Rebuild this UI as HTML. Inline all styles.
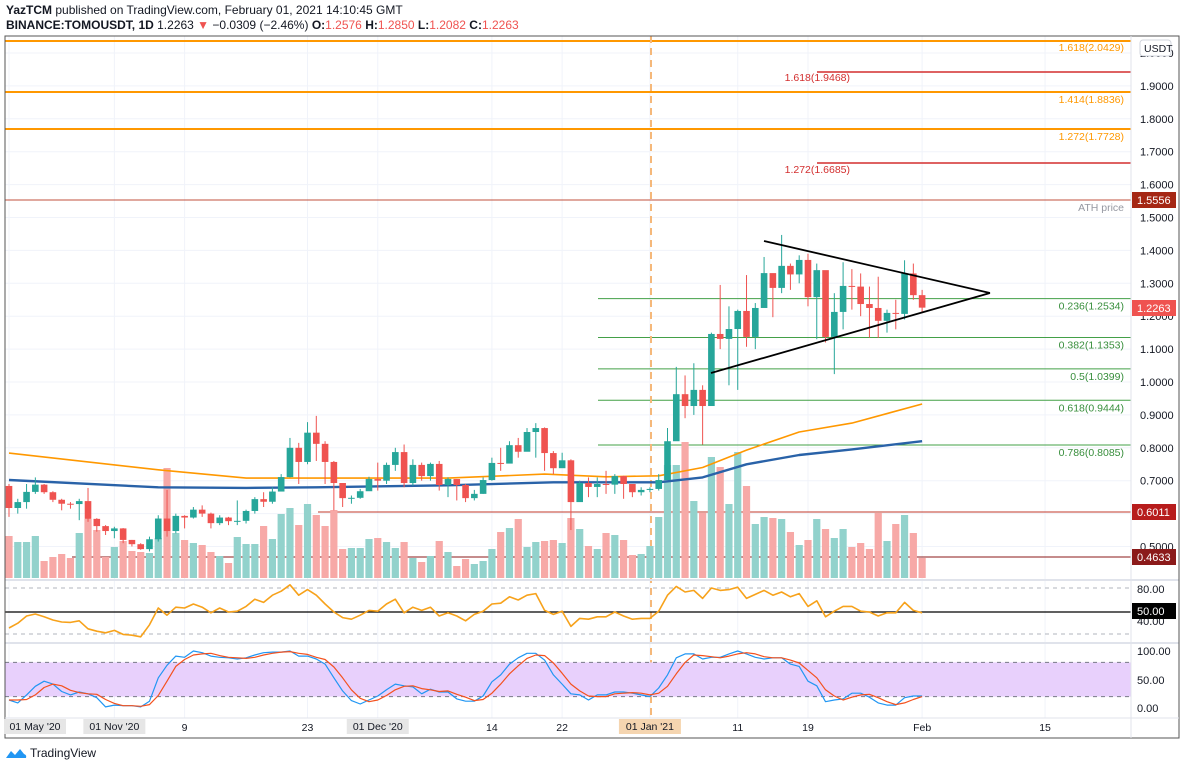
<!DOCTYPE html>
<html><head><meta charset="utf-8"><style>
html,body{margin:0;padding:0;background:#fff;}
svg{display:block;font-family:"Liberation Sans",sans-serif;}
</style></head><body>
<svg id="chart" width="1185" height="768" viewBox="0 0 1185 768" xmlns="http://www.w3.org/2000/svg">
<rect x="0" y="0" width="1185" height="768" fill="#fff"/>
<text x="6" y="14" font-size="12" fill="#131722"><tspan font-weight="bold">YazTCM</tspan> published on TradingView.com, February 01, 2021 14:10:45 GMT</text>
<text x="6" y="29" font-size="12" fill="#131722"><tspan font-weight="bold">BINANCE:TOMOUSDT, 1D</tspan> 1.2263 <tspan fill="#ef5350">▼</tspan> −0.0309 (−2.46%) <tspan font-weight="bold">O:</tspan><tspan fill="#ef5350">1.2576</tspan> <tspan font-weight="bold">H:</tspan><tspan fill="#ef5350">1.2850</tspan> <tspan font-weight="bold">L:</tspan><tspan fill="#ef5350">1.2082</tspan> <tspan font-weight="bold">C:</tspan><tspan fill="#ef5350">1.2263</tspan></text>
<g id="grid"></g>
<g id="levels"></g>
<g id="vol"></g>
<g id="ma"></g>
<g id="candles"></g>
<g id="rsi"></g>
<g id="stoch"></g>
<g id="axes"></g>
<g>
<path d="M6 758 l5 -7 l4 4 l5 -6 l4 5 q3 1 2 4 z" fill="#2196f3"/>
<text x="30" y="757" font-size="12" fill="#131722">TradingView</text>
</g>
</svg>
<script>
const closes=[0.617,0.635,0.666,0.688,0.665,0.642,0.630,0.629,0.638,0.584,0.562,0.547,0.555,0.520,0.507,0.492,0.522,0.585,0.547,0.593,0.588,0.612,0.600,0.571,0.588,0.577,0.578,0.608,0.644,0.636,0.667,0.711,0.800,0.757,0.846,0.812,0.757,0.693,0.647,0.648,0.668,0.705,0.700,0.748,0.787,0.693,0.748,0.714,0.751,0.687,0.705,0.687,0.647,0.660,0.702,0.754,0.752,0.808,0.788,0.848,0.860,0.784,0.738,0.762,0.635,0.693,0.681,0.690,0.688,0.714,0.690,0.665,0.672,0.675,0.702,0.820,0.963,0.927,0.976,0.927,1.146,1.131,1.161,1.216,1.137,1.225,1.331,1.286,1.353,1.327,1.371,1.258,1.340,1.137,1.213,1.292,1.290,1.237,1.225,1.186,1.210,1.207,1.330,1.264,1.226];
const opens=[0.684,0.617,0.635,0.666,0.688,0.665,0.642,0.630,0.629,0.638,0.584,0.562,0.547,0.555,0.520,0.507,0.492,0.522,0.585,0.547,0.593,0.588,0.612,0.600,0.571,0.588,0.577,0.578,0.608,0.644,0.636,0.667,0.711,0.800,0.757,0.846,0.812,0.757,0.693,0.647,0.648,0.668,0.705,0.700,0.748,0.787,0.693,0.748,0.714,0.751,0.687,0.705,0.687,0.647,0.660,0.702,0.754,0.752,0.808,0.788,0.848,0.860,0.784,0.738,0.762,0.635,0.693,0.681,0.690,0.688,0.714,0.690,0.665,0.672,0.675,0.702,0.820,0.963,0.927,0.976,0.927,1.146,1.131,1.161,1.216,1.137,1.225,1.331,1.286,1.353,1.327,1.371,1.258,1.340,1.137,1.213,1.292,1.290,1.237,1.225,1.186,1.210,1.207,1.330,1.264];
const highs=[0.69,0.645,0.69,0.71,0.69,0.668,0.645,0.635,0.645,0.678,0.586,0.565,0.56,0.556,0.52,0.51,0.53,0.595,0.672,0.60,0.595,0.62,0.625,0.603,0.595,0.59,0.64,0.612,0.65,0.665,0.68,0.72,0.83,0.815,0.878,0.897,0.82,0.76,0.69,0.655,0.675,0.712,0.755,0.755,0.80,0.81,0.765,0.755,0.755,0.76,0.71,0.705,0.69,0.672,0.71,0.77,0.80,0.82,0.83,0.86,0.875,0.862,0.79,0.785,0.765,0.70,0.71,0.71,0.73,0.72,0.715,0.69,0.68,0.68,0.72,0.86,1.046,1.02,1.057,0.99,1.15,1.295,1.23,1.22,1.325,1.24,1.38,1.33,1.447,1.36,1.385,1.39,1.36,1.31,1.27,1.364,1.343,1.33,1.29,1.32,1.22,1.25,1.37,1.36,1.28];
const lows=[0.59,0.60,0.615,0.66,0.66,0.635,0.61,0.615,0.58,0.575,0.545,0.535,0.525,0.51,0.50,0.49,0.485,0.515,0.53,0.54,0.555,0.585,0.59,0.555,0.565,0.565,0.565,0.57,0.60,0.62,0.63,0.69,0.71,0.69,0.75,0.76,0.69,0.61,0.62,0.63,0.645,0.67,0.67,0.69,0.73,0.68,0.685,0.70,0.70,0.67,0.65,0.64,0.635,0.64,0.66,0.70,0.73,0.78,0.77,0.83,0.77,0.73,0.72,0.74,0.55,0.64,0.65,0.65,0.66,0.66,0.645,0.65,0.655,0.665,0.67,0.80,0.88,0.89,0.90,0.81,1.06,1.10,0.99,0.976,1.107,1.10,1.25,1.197,1.27,1.28,1.30,1.23,1.13,1.12,1.024,1.16,1.22,1.20,1.135,1.134,1.15,1.16,1.19,1.25,1.21];
const volumes=[42,36,36,42,17,21,24,20,45,59,48,21,31,37,27,26,25,40,110,45,38,35,33,26,22,15,41,34,34,52,39,64,70,53,74,63,52,68,29,30,30,39,40,36,30,36,20,16,22,37,26,12,19,14,17,29,46,50,59,31,36,37,38,35,60,49,32,29,45,43,38,23,24,32,61,113,113,136,77,65,121,111,74,126,92,54,61,60,59,46,33,38,59,49,40,49,31,35,29,65,37,54,63,45,20];
const rsiVals=[30,36,45,47.5,44,40,37.5,37,39,29,26,24,27,22,21,19,34,55,46,56,55,60,56,49,55,50,51,57,66,62,71,76,84,71,78,71,60,50,43,41,46,52,51,60,66,49,56,52,56,45,49,45,39,47,51,60,61,69,65,71,73,52,47,51,32,42,41,44,44,50,45,41,42,42,51,71,82,75,77,67,80,77,78,81,67,72,77,71,75,69,73,57,64,44,51,57,57,51,50,45,49,49,62,52,49];
const stochK=[14,9,23,38,47,42,29,23,28,25,18,2,5,4,4,2,12,53,75,91,89,100,97,91,89,88,86,88,93,97,98,98,100,91,91,86,77,53,30,13,7,14,21,32,42,39,37,25,33,28,28,16,12,12,21,46,58,77,88,96,96,84,58,42,25,23,14,23,23,28,28,26,23,20,35,58,88,95,95,86,89,89,95,100,95,89,86,88,88,77,73,47,39,11,14,16,26,26,19,9,5,5,18,21,21];
const stochD=[14,14,15,23,36,42,39,31,27,25,24,15,8,4,4,3,6,22,47,73,85,93,95,96,92,89,88,87,89,93,96,98,99,96,94,89,85,72,53,32,17,11,14,22,32,38,39,34,32,29,30,24,19,13,15,26,42,60,74,87,93,92,79,61,42,30,21,20,20,25,26,27,26,23,26,38,60,80,93,92,90,88,91,95,97,95,90,88,88,84,79,66,53,32,21,14,19,23,24,18,11,6,9,15,20];
const maOrangeIdx=[0,17,27,35,50,61,68,74,79,84,90,96,104];
const maOrangeVals=[0.784,0.733,0.708,0.708,0.708,0.72,0.712,0.715,0.74,0.793,0.848,0.875,0.933];
const maBlueIdx=[0,17,27,35,50,62,68,74,79,84,90,96,104];
const maBlueVals=[0.702,0.68,0.678,0.68,0.686,0.695,0.695,0.695,0.71,0.75,0.778,0.795,0.82];
const priceTicks=[2.0,1.9,1.8,1.7,1.6,1.5,1.4,1.3,1.2,1.1,1.0,0.9,0.8,0.7,0.6,0.5];
const timeLabels=["01 May '20","01 Nov '20","9","23","01 Dec '20","14","22","01 Jan '21","11","19","Feb","15"];
const timeIdx=[0,12,20,34,42,55,63,73,83,91,104,118];

const NS="http://www.w3.org/2000/svg";
function el(parent,tag,attrs,text){const e=document.createElementNS(NS,tag);for(const k in attrs)e.setAttribute(k,attrs[k]);if(text!==undefined)e.textContent=text;parent.appendChild(e);return e;}
const X=i=>9+8.78*i;
const Y=p=>382-(p-1)*329;
const VY=v=>578-v;
const RY=v=>588+(80-v)*0.8;
const SY=v=>708-v*0.57;
const L=5,R=1131;
const g=id=>document.getElementById(id);

const grid=g('grid');
priceTicks.forEach(p=>{const l=el(grid,'line',{x1:L,x2:R,y1:Y(p),y2:Y(p),stroke:'#f0f3fa','stroke-width':1});

});
timeIdx.forEach(i=>{const l=el(grid,'line',{x1:X(i),x2:X(i),y1:36,y2:718,stroke:'#f0f3fa','stroke-width':1});

});

const lv=g('levels');
function hl(y,x1,color,w,name){const l=el(lv,'line',{x1:x1,x2:R,y1:y,y2:y,stroke:color,'stroke-width':w});

}
function lab(x,y,t,c,anchor,name){const e=el(lv,'text',{x:x,y:y,'font-size':10.5,fill:c,'text-anchor':anchor||'end'},t);

}
const OR='#ff9800',RD='#d32f2f',GR='#43a047';
hl(41,L,OR,2,'fib-level-2.0429');lab(1124,51,'1.618(2.0429)',OR,'end','fib-label-2.0429');
hl(72,817,RD,1.5,'fib-level-1.9468');lab(850,81,'1.618(1.9468)',RD,'end','fib-label-1.9468');
hl(92,L,OR,2,'fib-level-1.8836');lab(1124,103,'1.414(1.8836)',OR,'end','fib-label-1.8836');
hl(129,L,OR,2,'fib-level-1.7728');lab(1124,140,'1.272(1.7728)',OR,'end','fib-label-1.7728');
hl(163,817,RD,1.5,'fib-level-1.6685');lab(850,173,'1.272(1.6685)',RD,'end','fib-label-1.6685');
hl(200,L,'#c0503c',1,'ath-line');lab(1124,211,'ATH price','#9598a1','end','ath-label');
[[1.2534,'0.236(1.2534)'],[1.1353,'0.382(1.1353)'],[1.0399,'0.5(1.0399)'],[0.9444,'0.618(0.9444)'],[0.8085,'0.786(0.8085)']].forEach(a=>{hl(Y(a[0]),598,GR,1,'fib-level-'+a[0]);lab(1124,Y(a[0])+11,a[1],'#388e3c','end','fib-label-'+a[0]);});
hl(512,318,'#c0392b',1,'support-0.6011');
hl(557,72,'#8b1a1a',1,'support-0.4633');
{const l=el(lv,'line',{x1:651,x2:651,y1:36,y2:718,stroke:'#f5b87a','stroke-width':2,'stroke-dasharray':'7,5'});

}

const vg=g('vol');
volumes.forEach((v,i)=>{const up=closes[i]>=opens[i];const r=el(vg,'rect',{x:X(i)-3.6,y:VY(v),width:7.2,height:v,fill:up?'#92d2cc':'#f7a9a7'});

});

const mg=g('ma');
function poly(par,xs,ys,color,w,name){const pts=xs.map((x,k)=>x.toFixed(1)+','+ys[k].toFixed(1)).join(' ');const p=el(par,'polyline',{points:pts,fill:'none',stroke:color,'stroke-width':w,'stroke-linejoin':'round'});

return p;}
poly(mg,maOrangeIdx.map(X),maOrangeVals.map(Y),'#ff9800',1.6,'ma-orange');
poly(mg,maBlueIdx.map(X),maBlueVals.map(Y),'#2962a8',2.4,'ma-blue');

const cg=g('candles');
closes.forEach((c,i)=>{const o=opens[i];const up=c>=o;const col=up?'#26a69a':'#ef5350';const x=X(i);
const w=el(cg,'line',{x1:x,x2:x,y1:Y(highs[i]),y2:Y(lows[i]),stroke:col,'stroke-width':1});


const t=Y(Math.max(o,c)),b=Y(Math.min(o,c));
const r=el(cg,'rect',{x:x-3.3,y:t,width:6.6,height:Math.max(1,b-t),fill:col});

});
{const t1=el(cg,'line',{x1:764,y1:241,x2:990,y2:293,stroke:'#000','stroke-width':1.8});


const t2=el(cg,'line',{x1:711,y1:373,x2:990,y2:293,stroke:'#000','stroke-width':1.8});

}

const rg=g('rsi');
{const s=el(rg,'line',{x1:L,x2:1179,y1:580,y2:580,stroke:'#e0e3eb','stroke-width':2});}
[[80,'rsi-upper-band'],[30,'rsi-lower-band']].forEach(a=>{const l=el(rg,'line',{x1:L,x2:R,y1:a[0]===80?588:634,y2:a[0]===80?588:634,stroke:'#b2b5be','stroke-dasharray':'4,4'});

});
{const l=el(rg,'line',{x1:L,x2:R,y1:RY(50),y2:RY(50),stroke:'#000','stroke-width':1.2});}
poly(rg,rsiVals.map((v,i)=>X(i)),rsiVals.map(RY),'#f7a21b',1.6,'rsi-line');

const sg=g('stoch');
{const s=el(sg,'line',{x1:L,x2:1179,y1:643,y2:643,stroke:'#e0e3eb','stroke-width':2});}
{const f=el(sg,'rect',{x:L,y:SY(80),width:R-L,height:SY(20)-SY(80),fill:'#e8d0fc'});}
[80,20].forEach(v=>{const l=el(sg,'line',{x1:L,x2:R,y1:SY(v),y2:SY(v),stroke:'#787b86','stroke-dasharray':'4,4'});

});
poly(sg,stochK.map((v,i)=>X(i)),stochK.map(SY),'#2196f3',1.2,'stoch-k-line');
poly(sg,stochD.map((v,i)=>X(i)),stochD.map(SY),'#f4511e',1.2,'stoch-d-line');

const ag=g('axes');
{const b=el(ag,'rect',{x:L,y:36,width:1179-L,height:738-36,fill:'none',stroke:'#555','stroke-width':1});}
{const l=el(ag,'line',{x1:R,x2:R,y1:36,y2:738,stroke:'#e0e3eb'});}
{const l=el(ag,'line',{x1:L,x2:1179,y1:718,y2:718,stroke:'#e0e3eb'});}
priceTicks.forEach(p=>{const t=el(ag,'text',{x:1140,y:Y(p)+4,'font-size':11,fill:'#131722'},p.toFixed(4));

});
function badge(y,t,bg,fg,name){const r=el(ag,'rect',{x:1132,y:y-8,width:44,height:16,fill:bg});


const tx=el(ag,'text',{x:1137,y:y+4,'font-size':11,fill:fg},t);

}
{const r=el(ag,'rect',{x:1140,y:40,width:31,height:16,rx:3,fill:'#fff',stroke:'#d1d4dc'});
const t=el(ag,'text',{x:1144,y:52,'font-size':10.5,fill:'#131722'},'USDT');}
badge(200,'1.5556','#a52714','#fff','ath-price-badge');
badge(308,'1.2263','#ef5350','#fff','last-price-badge');
badge(512,'0.6011','#b71c1c','#fff','support-badge-0.6011');
badge(557,'0.4633','#8b1a1a','#fff','support-badge-0.4633');
[[589,'80.00'],[621,'40.00'],[651,'100.00'],[680,'50.00'],[708,'0.00']].forEach(a=>{const t=el(ag,'text',{x:1137,y:a[0]+4,'font-size':11,fill:'#131722'},a[1]);

});
badge(611,'50.00','#000','#fff','rsi-50-badge');
timeLabels.forEach((t,k)=>{const x=X(timeIdx[k]);const boxed=t.length>4;
if(boxed){const w=t.length*5.6+6;const cx=k===0?35:x;const r=el(ag,'rect',{x:cx-w/2,y:719,width:w,height:15,fill:k===7?'#f5d5b0':'#e6e6e6'});


const tx=el(ag,'text',{x:cx,y:730,'font-size':10.5,fill:'#131722','text-anchor':'middle'},t);

}
else{const tx=el(ag,'text',{x:x,y:731,'font-size':10.5,fill:'#131722','text-anchor':'middle'},t);

}});
</script>
</body></html>
